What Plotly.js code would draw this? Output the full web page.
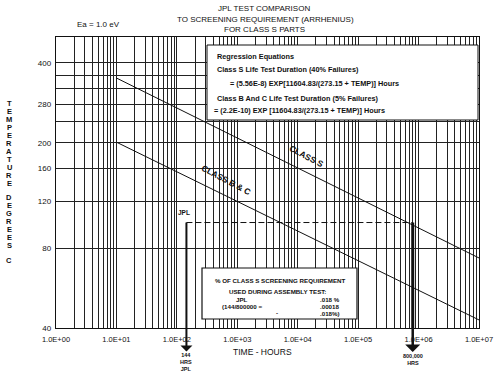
<!DOCTYPE html>
<html>
<head>
<meta charset="utf-8">
<script src="https://cdn.plot.ly/plotly-3.0.1.min.js"></script>
<style>html,body{margin:0;padding:0;background:#fff;}#chart{width:500px;height:375px;}</style>
</head>
<body>
<div id="chart"></div>
<script>
// ---- data ----
const titleLines = ['JPL TEST COMPARISON', 'TO SCREENING REQUIREMENT (ARRHENIUS)', 'FOR CLASS S PARTS'];
const decadeLabels = ['1.0E+00','1.0E+01','1.0E+02','1.0E+03','1.0E+04','1.0E+05','1.0E+06','1.0E+07'];
const tempTicks = [40, 80, 120, 160, 200, 240, 280, 320, 360, 400];
const tempLabels = ['40', '80', '120', '160', '200', '', '280', '', '', '400'];
const lineHours = [10, 1e7];
const classSTemp = [351, 73.5];
const classBCTemp = [201, 42.9];
const jplHours = [144, 800000];
const jplTemp = [100, 100];
const dropTemp = [100, 40];

// ---- layout geometry (pixels) ----
const L = 56, R = 479, T = 37, B = 328;
const W = R - L, H = B - T;
const px = x => (x - L) / W;
const py = y => (B - y) / H;

const FONT = 'Liberation Sans, Arial, sans-serif';
const INK = '#111';

// x tick values: every mantissa 1..9 within each decade
const xTickVals = [], xTickText = [];
decadeLabels.forEach((lab, k) => {
  const base = Math.pow(10, k);
  const last = (k === decadeLabels.length - 1) ? 1 : 9;
  for (let m = 1; m <= last; m++) {
    xTickVals.push(m * base);
    xTickText.push(m === 1 ? lab : '');
  }
});

const traces = [
  {x: lineHours, y: classSTemp, mode: 'lines', line: {color: INK, width: 1}, hoverinfo: 'skip'},
  {x: lineHours, y: classBCTemp, mode: 'lines', line: {color: INK, width: 1}, hoverinfo: 'skip'},
  {x: jplHours, y: jplTemp, mode: 'lines', line: {color: INK, width: 1, dash: '6px,3px'}, hoverinfo: 'skip'},
  {x: [jplHours[0], jplHours[0]], y: dropTemp, mode: 'lines', line: {color: INK, width: 2}, hoverinfo: 'skip'},
  {x: [jplHours[1], jplHours[1]], y: dropTemp, mode: 'lines', line: {color: INK, width: 3}, hoverinfo: 'skip'}
];

function txt(text, x, y, size, opts) {
  return Object.assign({
    text: text, x: px(x), y: py(y), xref: 'paper', yref: 'paper',
    showarrow: false, xanchor: 'left', yanchor: 'middle',
    font: {family: FONT, size: size, color: INK}
  }, opts || {});
}

const annotations = [
  txt(titleLines[0], 264, 8.5, 8, {xanchor: 'center'}),
  txt(titleLines[1], 265, 19, 8, {xanchor: 'center'}),
  txt(titleLines[2], 264, 29.5, 8, {xanchor: 'center'}),
  txt('Ea = 1.0 eV', 98, 25, 8, {xanchor: 'center'}),
  // regression box
  txt('<b>Regression Equations</b>', 215, 56, 7.3),
  txt('<b>Class S Life Test Duration (40% Failures)</b>', 215, 69, 7.3),
  txt('<b>= (5.56E-8) EXP[11604.83/(273.15 + TEMP)] Hours</b>', 228, 83, 7.3),
  txt('<b>Class B And C Life Test Duration (5% Failures)</b>', 215, 98, 7.3),
  txt('<b>= (2.2E-10) EXP [11604.83/(273.15 + TEMP)] Hours</b>', 212, 110, 7.3),
  // screening box
  txt('<b>% OF CLASS S SCREENING REQUIREMENT</b>', 280, 280, 6.2, {xanchor: 'center'}),
  txt('<b>USED DURING ASSEMBLY TEST:</b>', 277, 291, 6.2, {xanchor: 'center'}),
  txt('<b>JPL</b>', 242, 299, 6.2, {xanchor: 'center'}),
  txt('<b>(144/800000 =</b>', 242, 306, 6.2, {xanchor: 'center'}),
  txt('<b>-</b>', 277, 312, 6.2, {xanchor: 'center'}),
  txt('<b>.018 %</b>', 318, 299, 6.2),
  txt('<b>.00018</b>', 318, 306, 6.2),
  txt('<b>.018%)</b>', 318, 313, 6.2),
  // line labels
  txt('<b>CLASS S</b>', 306, 156, 8.5, {xanchor: 'center', textangle: 28}),
  txt('<b>CLASS B &amp; C</b>', 226, 180, 8.5, {xanchor: 'center', textangle: 28}),
  // JPL label
  {text: '<b>JPL</b>', x: Math.log10(jplHours[0]), y: Math.log10(jplTemp[0]), xref: 'x', yref: 'y',
   showarrow: false, xanchor: 'center', yanchor: 'bottom', yshift: 5, xshift: -2,
   font: {family: FONT, size: 6.5, color: INK}},
  // x axis title
  txt('TIME - HOURS', 262, 352, 8.5, {xanchor: 'center'}),
  // arrows below axis
  {text: '<b>144<br>HRS<br>JPL</b>', x: Math.log10(jplHours[0]), y: 0, xref: 'x', yref: 'paper',
   showarrow: true, ax: 0, ay: 34, axref: 'pixel', ayref: 'pixel', arrowside: 'start',
   arrowhead: 2, arrowsize: 0.3, arrowwidth: 2, arrowcolor: INK, standoff: 0, startstandoff: 0,
   borderpad: 0, font: {family: FONT, size: 5.5, color: INK}},
  {text: '<b>800,000<br>HRS</b>', x: Math.log10(jplHours[1]), y: 0, xref: 'x', yref: 'paper',
   showarrow: true, ax: 0, ay: 31, axref: 'pixel', ayref: 'pixel', arrowside: 'start',
   arrowhead: 2, arrowsize: 0.3, arrowwidth: 2.5, arrowcolor: INK, standoff: 0, startstandoff: 0,
   borderpad: 0, font: {family: FONT, size: 5.5, color: INK}}
];

// stacked vertical y title
const yTitleWords = ['TEMPERATURE', 'DEGREES', 'C'];
let yy = 104;
yTitleWords.forEach(w => {
  for (const ch of w) {
    annotations.push(txt('<b>' + ch + '</b>', 9, yy, 7.5, {xanchor: 'center'}));
    yy += 7.9;
  }
  yy += 7;
});

const shapes = [
  {type: 'rect', xref: 'paper', yref: 'paper', x0: px(207), x1: px(478), y0: py(120), y1: py(45),
   fillcolor: '#fff', line: {color: INK, width: 1}, layer: 'above'},
  {type: 'rect', xref: 'paper', yref: 'paper', x0: px(202), x1: px(357), y0: py(319), y1: py(268),
   fillcolor: '#fff', line: {color: INK, width: 1.2}, layer: 'above'}
];

const layout = {
  width: 500, height: 375,
  margin: {l: L, r: 500 - R, t: T, b: 375 - B, pad: 0},
  paper_bgcolor: '#fff', plot_bgcolor: '#fff',
  showlegend: false,
  xaxis: {type: 'log', range: [0, 7], tickmode: 'array', tickvals: xTickVals, ticktext: xTickText,
          showgrid: true, gridcolor: '#222', gridwidth: 1, zeroline: false,
          showline: true, mirror: true, linecolor: INK, linewidth: 1.2, ticks: '', ticklen: 0,
          ticklabelstandoff: 4,
          tickfont: {family: FONT, size: 7.5, color: INK}, tickangle: 0, automargin: false},
  yaxis: {type: 'log', range: [Math.log10(40), 2.70], tickmode: 'array', tickvals: tempTicks, ticktext: tempLabels,
          showgrid: true, gridcolor: '#222', gridwidth: 1, zeroline: false,
          showline: true, mirror: true, linecolor: INK, linewidth: 1.2, ticks: '', ticklen: 0,
          ticklabelstandoff: 2,
          tickfont: {family: FONT, size: 8, color: INK}, automargin: false},
  annotations: annotations,
  shapes: shapes
};

Plotly.newPlot('chart', traces, layout, {staticPlot: true, displayModeBar: false});
</script>
</body>
</html>
